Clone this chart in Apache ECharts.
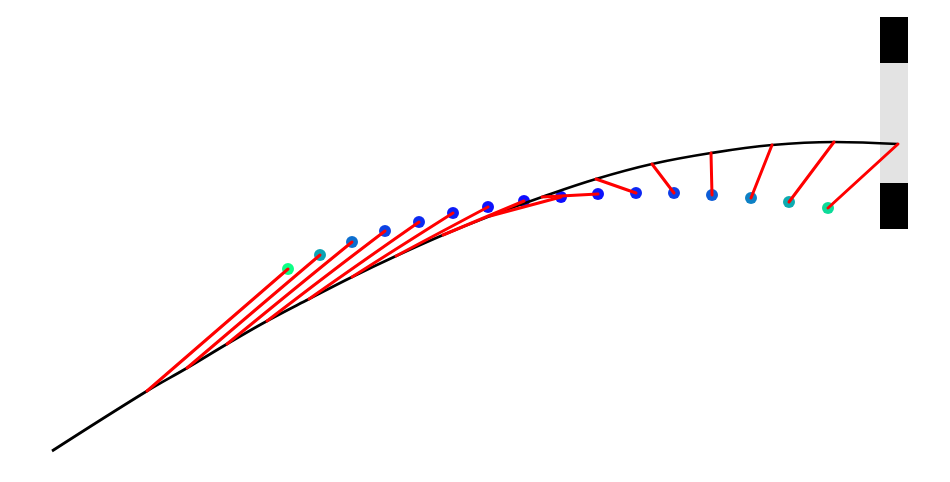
<!DOCTYPE html>
<html>
<head>
<meta charset="utf-8">
<script src="https://cdn.jsdelivr.net/npm/echarts@6/dist/echarts.min.js"></script>
<style>
  html, body { margin: 0; padding: 0; background: #fff; }
  #chart { width: 950px; height: 482px; }
</style>
</head>
<body>
<div id="chart"></div>
<script>
// curve surface, from the far left end to the right edge
const curveX = [0, 95, 135, 175, 215, 257, 300, 344, 391, 438, 490, 544, 600, 659, 720, 782, 846];
const curveY = [0, 60, 83, 107, 130, 152, 174, 195, 216, 235, 254, 272, 287, 298, 306, 309, 307];
// focus dots, each one joined by a ray to curve point i + 1
const dotX = [236, 268, 300, 333, 367, 401, 436, 472, 509, 546, 584, 622, 660, 699, 737, 776];
const dotY = [182, 196, 209, 220, 229, 238, 244, 250, 254, 257, 258, 258, 256, 253, 249, 243];
const dotLevel = [1, 0.62, 0.4, 0.22, 0.12, 0.06, 0.02, 0, 0, 0.02, 0.1, 0.2, 0.33, 0.48, 0.65, 0.85];
// right hand strip: [from, to] along y
const stripX = [828, 856];
const stripBlocks = [[222, 268], [268, 388], [388, 434]];
const stripColors = ['#000000', '#e3e3e3', '#000000'];

const raySeries = dotX.map((x, i) => ({
  type: 'line',
  z: 5,
  silent: true,
  symbol: 'none',
  clip: false,
  lineStyle: { color: '#ff0000', width: 3, cap: 'round' },
  data: [[curveX[i + 1], curveY[i + 1]], [x, dotY[i]]]
}));

const chart = echarts.init(document.getElementById('chart'), null, { renderer: 'canvas' });
chart.setOption({
  animation: false,
  grid: { left: 52, top: 17, width: 856, height: 434 },
  xAxis: { type: 'value', min: 0, max: 856, show: false },
  yAxis: { type: 'value', min: 0, max: 434, show: false },
  visualMap: {
    show: false,
    seriesIndex: 1,
    dimension: 2,
    min: 0,
    max: 1,
    inRange: { color: ['#0000ff', '#00ff80'] }
  },
  series: [
    {
      type: 'custom',
      z: 1,
      silent: true,
      data: stripBlocks.map((b, i) => [b[0], b[1], i]),
      renderItem: (params, api) => {
        const a = api.coord([stripX[0], api.value(1)]);
        const b = api.coord([stripX[1], api.value(0)]);
        return {
          type: 'rect',
          shape: { x: a[0], y: a[1], width: b[0] - a[0], height: b[1] - a[1] },
          style: { fill: stripColors[api.value(2)] }
        };
      }
    },
    {
      type: 'scatter',
      z: 2,
      silent: true,
      symbolSize: 12,
      itemStyle: { opacity: 0.95 },
      data: dotX.map((x, i) => [x, dotY[i], dotLevel[i]])
    },
    {
      type: 'line',
      z: 3,
      silent: true,
      symbol: 'none',
      smooth: 0.4,
      clip: false,
      lineStyle: { color: '#000000', width: 2.7 },
      data: curveX.map((x, i) => [x, curveY[i]])
    }
  ].concat(raySeries)
});
window.addEventListener('resize', chart.resize);
</script>
</body>
</html>
